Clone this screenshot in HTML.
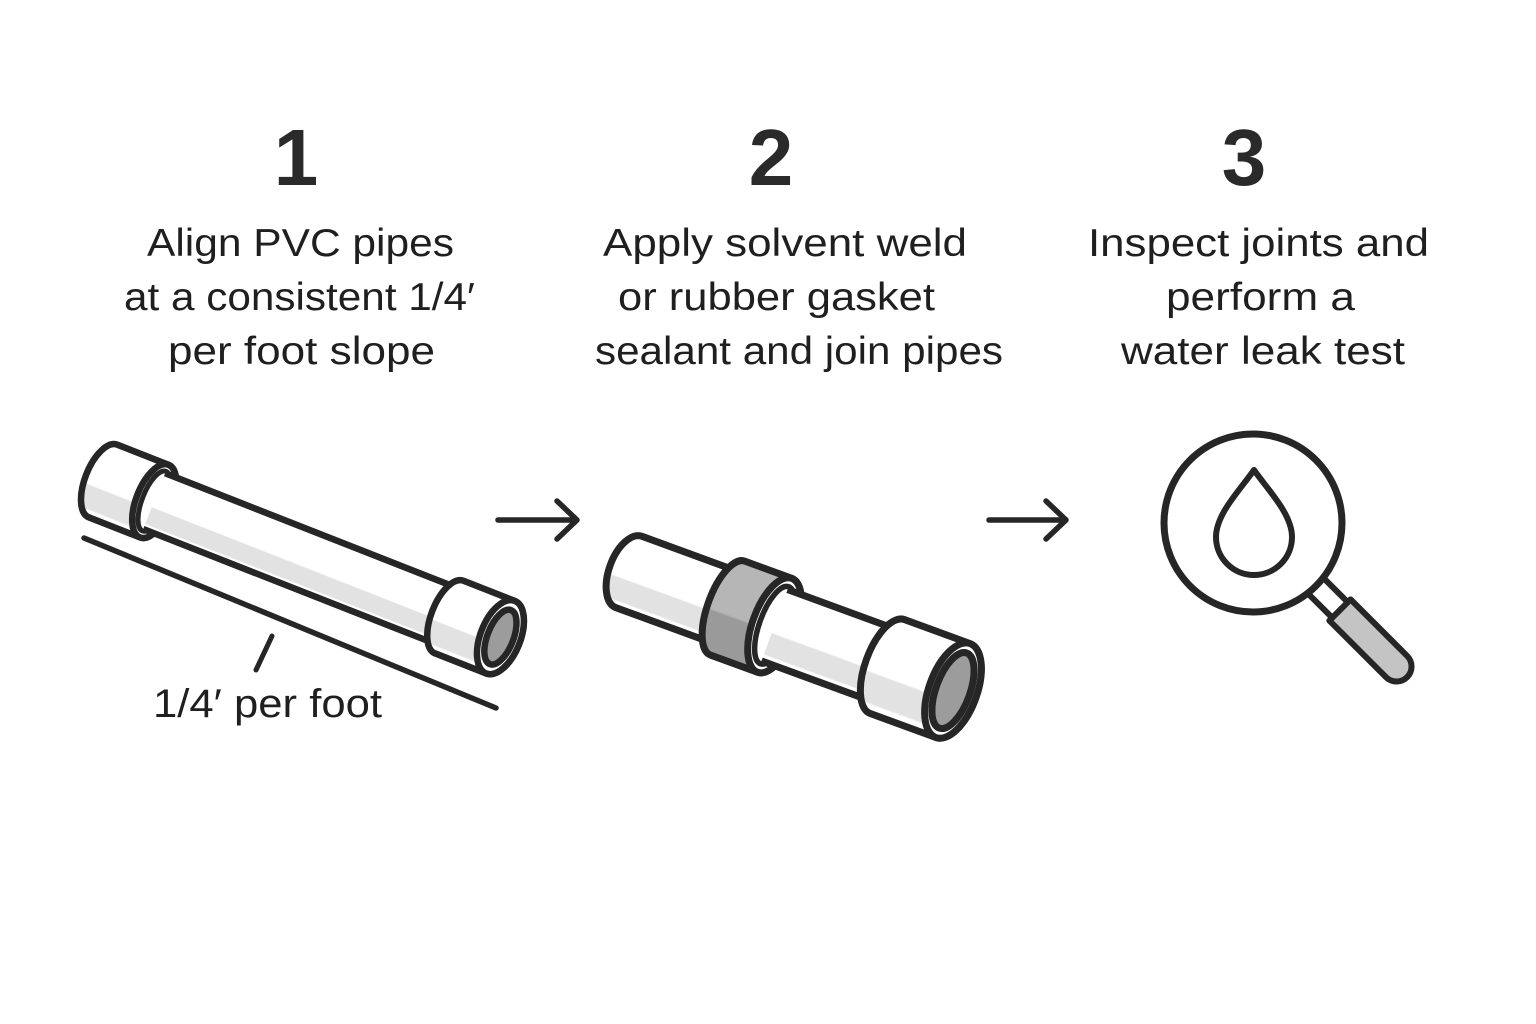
<!DOCTYPE html>
<html>
<head>
<meta charset="utf-8">
<style>
html,body{margin:0;padding:0;background:#fff;}
svg{display:block;}
text{font-family:"Liberation Sans","DejaVu Sans",sans-serif;fill:#1f1f1f;}
</style>
</head>
<body>
<svg width="1536" height="1024" viewBox="0 0 1536 1024" xmlns="http://www.w3.org/2000/svg">
<defs>
<linearGradient id="gw" x1="0" y1="0" x2="0" y2="1">
<stop offset="0" stop-color="#ffffff"/>
<stop offset="0.6" stop-color="#ffffff"/>
<stop offset="0.62" stop-color="#e2e2e2"/>
<stop offset="0.9" stop-color="#e2e2e2"/>
<stop offset="0.92" stop-color="#ffffff"/>
<stop offset="1" stop-color="#ffffff"/>
</linearGradient>
<linearGradient id="gb" x1="0" y1="0" x2="0" y2="1">
<stop offset="0" stop-color="#b6b6b6"/>
<stop offset="0.56" stop-color="#b6b6b6"/>
<stop offset="0.58" stop-color="#9a9a9a"/>
<stop offset="1" stop-color="#9a9a9a"/>
</linearGradient>
</defs>
<rect width="1536" height="1024" fill="#ffffff"/>

<!-- Step numbers -->
<text x="296" y="185" font-size="80" font-weight="bold" text-anchor="middle" style="fill:#2a2a2a">1</text>
<text x="771" y="185" font-size="80" font-weight="bold" text-anchor="middle" style="fill:#2a2a2a">2</text>
<text x="1244" y="185" font-size="80" font-weight="bold" text-anchor="middle" style="fill:#2a2a2a">3</text>

<g font-size="39">
<text x="147" y="256" textLength="307" lengthAdjust="spacingAndGlyphs">Align PVC pipes</text>
<text x="124" y="310" textLength="351" lengthAdjust="spacingAndGlyphs">at a consistent 1/4′</text>
<text x="168" y="364" textLength="267" lengthAdjust="spacingAndGlyphs">per foot slope</text>

<text x="603" y="256" textLength="364" lengthAdjust="spacingAndGlyphs">Apply solvent weld</text>
<text x="618" y="310" textLength="317" lengthAdjust="spacingAndGlyphs">or rubber gasket</text>
<text x="595" y="364" textLength="408" lengthAdjust="spacingAndGlyphs">sealant and join pipes</text>

<text x="1088" y="256" textLength="341" lengthAdjust="spacingAndGlyphs">Inspect joints and</text>
<text x="1166" y="310" textLength="189" lengthAdjust="spacingAndGlyphs">perform a</text>
<text x="1121" y="364" textLength="284" lengthAdjust="spacingAndGlyphs">water leak test</text>
</g>

<!-- Slope line and label -->
<g stroke="#262626" stroke-linecap="round" fill="none">
<line x1="84" y1="538" x2="496" y2="708" stroke-width="5.5"/>
<line x1="272" y1="636" x2="256" y2="670" stroke-width="5"/>
</g>
<text x="153" y="717" font-size="40" textLength="229" lengthAdjust="spacingAndGlyphs">1/4′ per foot</text>

<!-- Pipe 1 -->
<g transform="translate(103,481) rotate(21.45)" stroke="#262626" stroke-width="6.5" stroke-linejoin="round">
<path d="M0,-39 L55,-39 A18 39 0 0 1 55,39 L0,39 A18 39 0 0 1 0,-39 Z" fill="url(#gw)"/>
<ellipse cx="55" cy="0" rx="18" ry="39" fill="#ffffff"/>
<ellipse cx="55" cy="0" rx="12" ry="32" fill="#ffffff" stroke-width="5"/>
<rect x="55" y="-30" width="322" height="60" fill="url(#gw)" stroke="none"/>
<line x1="55" y1="-30" x2="377" y2="-30"/>
<line x1="55" y1="30" x2="377" y2="30"/>
<path d="M372,-39 L427,-39 A20 39 0 0 1 427,39 L372,39 A18 39 0 0 1 372,-39 Z" fill="url(#gw)"/>
<ellipse cx="427" cy="0" rx="20" ry="39" fill="#ffffff"/>
<ellipse cx="427" cy="0" rx="13" ry="29" fill="#9c9c9c"/>
</g>

<!-- Arrows -->
<g stroke="#262626" stroke-width="5.5" stroke-linecap="round" stroke-linejoin="round" fill="none">
<path d="M498,520 H576 M557,501 L577,520 L557,539"/>
<path d="M989,520 H1066 M1046,501 L1066,520 L1046,539"/>
</g>

<!-- Pipe 2 -->
<g transform="translate(629,572) rotate(20.1)" stroke="#262626" stroke-width="7" stroke-linejoin="round">
<path d="M0,-38 L112,-38 L112,38 L0,38 A20 38 0 0 1 0,-38 Z" fill="url(#gw)"/>
<path d="M105,-50 L155,-50 A22 50 0 0 1 155,50 L105,50 A20 50 0 0 1 105,-50 Z" fill="url(#gb)"/>
<ellipse cx="155" cy="0" rx="22" ry="50" fill="#ffffff"/>
<ellipse cx="155" cy="0" rx="15" ry="41" fill="#ffffff" stroke-width="5.5"/>
<rect x="155" y="-38" width="127" height="76" fill="url(#gw)" stroke="none"/>
<line x1="155" y1="-38" x2="282" y2="-38"/>
<line x1="155" y1="38" x2="282" y2="38"/>
<path d="M275,-50 L345,-50 A24 50 0 0 1 345,50 L275,50 A22 50 0 0 1 275,-50 Z" fill="url(#gw)"/>
<ellipse cx="345" cy="0" rx="24" ry="50" fill="#ffffff"/>
<ellipse cx="345" cy="0" rx="17" ry="40" fill="#9c9c9c"/>
</g>

<!-- Magnifier -->
<g stroke="#262626" stroke-linejoin="round">
<g transform="translate(1253,523) rotate(45)">
<rect x="85" y="-11" width="40" height="22" fill="#ffffff" stroke-width="6"/>
</g>
<circle cx="1253" cy="523" r="89" fill="#ffffff" stroke-width="7"/>
<path d="M1254,470 C1240,490 1216,514 1216,537 A38 38 0 0 0 1292,537 C1292,514 1268,490 1254,470 Z" fill="#ffffff" stroke-width="6"/>
<g transform="translate(1253,523) rotate(45)">
<path d="M123,-15 H203 A15 15 0 0 1 203,15 H123 Z" fill="#c4c4c4" stroke-width="6"/>
</g>
</g>
</svg>
</body>
</html>
